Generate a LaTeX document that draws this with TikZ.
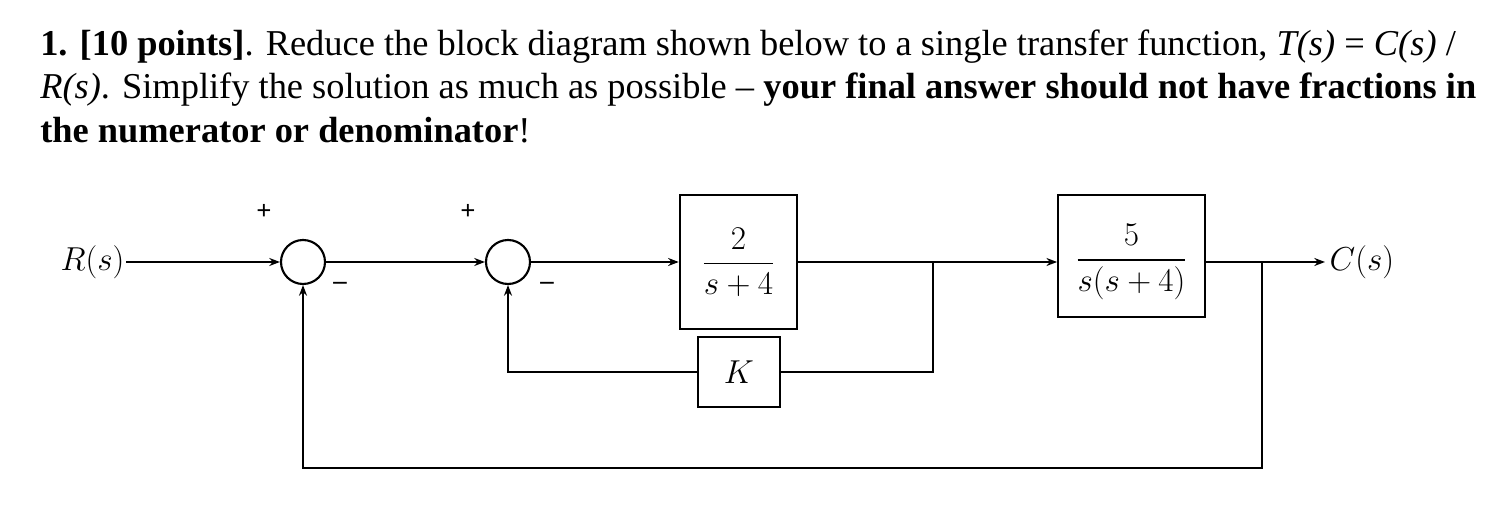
\documentclass[tikz,border=0pt]{standalone}
\usepackage{amsmath}
\usepackage{fontspec}
\setmainfont{Liberation Serif}
\usetikzlibrary{arrows.meta}
\begin{document}
\begin{tikzpicture}[x=0.75pt,y=-0.75pt,
  ln/.style={line width=1.6pt},
  arr/.style={ln,-{Stealth[length=8pt,width=6pt]}},
  blk/.style={draw,line width=1.6pt,inner sep=0pt},
  sumj/.style={draw,circle,line width=1.6pt,minimum size=33pt,inner sep=0pt},
  ttl/.style={anchor=base west,inner sep=0pt,font=\fontsize{27.3pt}{32pt}\selectfont},
  lab/.style={font=\fontsize{25pt}{30pt}\selectfont},
  sgn/.style={font=\fontsize{20pt}{24pt}\selectfont\bfseries}]
\useasboundingbox (0,0) rectangle (1504,530);
\node[ttl] (t1) at (40,56) {\textbf{1. [10 points]}. Reduce the block diagram shown below to a single transfer function, \textit{T(s)} = \textit{C(s)} /};
\node[ttl] (t2) at (40,99) {\textit{R(s)}. Simplify the solution as much as possible -- \textbf{your final answer should not have fractions in}};
\node[ttl] (t3) at (40,143) {\textbf{the numerator or denominator}!};
\node[lab,anchor=east,inner sep=1pt] (R) at (126,262) {$R(s)$};
\node[sumj] (s1) at (303,262) {};
\node[sumj] (s2) at (508,262) {};
\node[blk,minimum width=88pt,minimum height=101pt] (g1) at (738.5,262) {};
\node[lab] at (738.5,262) {$\dfrac{2}{s+4}$};
\node[blk,minimum width=110pt,minimum height=92pt] (g2) at (1131.5,256) {};
\node[lab] at (1131.5,262) {$\dfrac{5}{s(s+4)}$};
\node[blk,minimum width=62pt,minimum height=53pt] (k) at (739,372) {};
\node[lab] at (739,372) {$K$};
\node[lab,anchor=west] (C) at (1325,262) {$C(s)$};
\coordinate (p1) at (933,262);
\coordinate (p2) at (1262,262);
\node[sgn] at (264,212) {+};
\node[sgn] at (468,212) {+};
\node[sgn] at (340,286) {--};
\node[sgn] at (547,286) {--};
\draw[arr] (R) -- (s1);
\draw[arr] (s1) -- (s2);
\draw[arr] (s2) -- (g1.west|-s2);
\draw[arr] (g1.east|-s2) -- (g2.west|-s2);
\draw[arr] (g2.east|-s2) -- (C);
\draw[ln] (p1) |- (k.east);
\draw[arr] (k.west) -| (s2);
\draw[arr] (p2) -- (1262,468) -| (s1);
\end{tikzpicture}
\end{document}
